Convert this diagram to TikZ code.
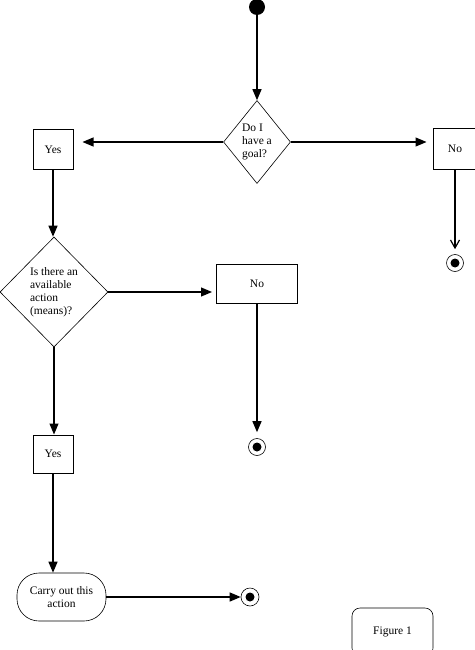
\documentclass[tikz,border=0pt]{standalone}
\usepackage{fontspec}
\setmainfont{Liberation Serif}
\usetikzlibrary{shapes.geometric,arrows.meta}

\begin{document}
\begin{tikzpicture}[x=1pt, y=-1pt,
    box/.style={draw, line width=1pt, inner sep=0pt, font=\fontsize{11.5}{13}\selectfont},
    decision/.style={draw, diamond, line width=0.6pt, inner sep=0pt, align=left,
      font=\fontsize{11.5}{13}\selectfont},
    finish/.style={circle, draw, line width=0.6pt, minimum size=17pt, inner sep=0pt,
      path picture={\fill (path picture bounding box.center) circle (4.5pt);}},
    flow/.style={line width=1.2pt, -{Triangle[length=11pt,width=9pt]}},
  ]
    % Page size as in the scanned figure
    \useasboundingbox (0,0) rectangle (474,650);

    % Start dot and the first question
    \fill (257,7) circle (8pt) node (start) [circle, minimum size=16pt, inner sep=0pt] {};
    \node[decision, minimum width=67pt, minimum height=83pt] (goal) at (257,142)
      {Do I\\have a\\goal?};

    % Answers to the first question
    \node[box, minimum width=40pt, minimum height=39pt] (yes1) at (53,149.5) {Yes};
    \node[box, minimum width=44pt, minimum height=40pt] (no1) at (455,149) {No};
    \node[finish] (end1) at (455,263) {};

    % Second question
    \node[decision, minimum width=108pt, minimum height=110pt] (means) at (54,292)
      {Is there an\\available\\action\\(means)?};
    \node[box, minimum width=81pt, minimum height=39pt] (no2) at (257,283.5) {No};
    \node[finish] (end2) at (257,447) {};
    \node[box, minimum width=40pt, minimum height=38pt] (yes2) at (53,454) {Yes};

    % Action and its end
    \node[draw, line width=0.6pt, rounded corners=22pt, minimum width=89pt, minimum height=48pt,
      align=center, font=\fontsize{11.5}{13}\selectfont] (action) at (61.5,597)
      {Carry out this\\action};
    \node[finish, minimum size=18pt] (end3) at (250,597) {};

    % Caption box, cut by the page edge
    \node[draw, line width=0.6pt, rounded corners=8pt, minimum width=81pt, minimum height=48pt,
      font=\fontsize{11.5}{13}\selectfont] (caption) at (392.5,632) {Figure 1};

    % Connectors
    \draw[flow] (start) -- (goal.north);
    \draw[flow, shorten >=9pt] (goal.west) -- (goal.west -| yes1.east);
    \draw[flow, shorten >=6pt] (goal.east) -- (goal.east -| no1.west);
    \draw[line width=1.2pt, -{Straight Barb[length=8pt,width=9pt]}, shorten >=5pt]
      (no1.south) -- (end1.north);
    \draw[flow] (yes1.south) -- (yes1.south |- means.north);
    \draw[flow, shorten >=4pt] (means.east) -- (means.east -| no2.west);
    \draw[flow, shorten >=6pt] (no2.south) -- (end2.north);
    \draw[flow] (means.south) -- (means.south |- yes2.north);
    \draw[flow] (yes2.south) -- (yes2.south |- action.north);
    \draw[flow] (action.east) -- (end3.west);

  \end{tikzpicture}
\end{document}
